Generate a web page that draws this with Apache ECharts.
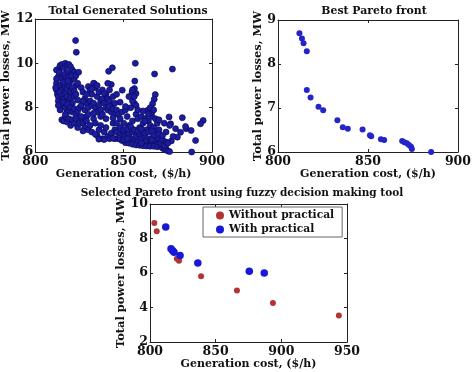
<!DOCTYPE html>
<html>
<head>
<meta charset="utf-8">
<script src="https://cdn.jsdelivr.net/npm/echarts@6/dist/echarts.min.js"></script>
<style>html,body{margin:0;padding:0;background:#fff;}#c{width:474px;height:372px;}</style>
</head>
<body>
<div id="c"></div>
<script>
// ---- Data ----
const titles = ["Total Generated Solutions", "Best Pareto front", "Selected Pareto front using fuzzy decision making tool"];
const xName = "Generation cost, ($/h)";
const yName = "Total power losses, MW";
const legendNames = ["Without practical", "With practical"];

// All generated solutions [cost, losses]
const allSolutions = [
 [822.8,11.03],[823.2,10.5],[813.1,9.73],[856.6,10.0],[877.6,9.74],[867.5,9.52],[843.6,9.8],[841.5,9.64],[856.3,9.2],[849.2,8.79],
 [833.3,9.09],[867.9,8.59],[867.3,8.38],[866.4,8.18],[863.6,7.88],[856.1,8.86],[857,8.64],[854.8,8.71],[883.2,7.55],[895,7.42],
 [893.5,7.27],[888.2,6.97],[890.7,6.52],[888.5,6.0],[875.7,7.58],[876.6,7.27],[882.2,6.89],[885.4,7.05],[885,7.15],[879.4,7.05],[880.4,6.67],
 [812,9.7],[813,9.4],[814,9.9],[815,9.95],[816,9.8],[817,10.0],[818,9.9],[819,9.95],[820,9.85],[821,9.7],[822,9.6],[818,9.6],[816,9.5],
 [815,9.3],[817,9.3],[819,9.4],[820,9.2],[822,9.3],[823,9.0],[824,9.1],[812,9.1],[813,8.9],[814,9.0],[815,8.8],[816,9.1],[817,8.95],
 [818,8.85],[819,9.0],[820,8.7],[821,8.9],[822,8.75],[812,8.8],[812.5,8.6],[813,8.5],[814,8.7],[815,8.55],[816,8.4],[817,8.6],[818,8.5],
 [819,8.3],[820,8.45],[821,8.2],[822,8.5],[823,8.6],[824,8.35],[813,8.3],[814,8.2],[815,8.1],[816,8.25],[817,8.0],[818,8.15],[819,7.9],
 [820,8.0],[821,7.8],[822,7.95],[823,7.7],[824,7.85],[825,8.0],[815,7.45],[816,7.4],[817,7.6],[818,7.35],[819,7.5],[820,7.2],[821,7.45],
 [822,7.3],[823,7.5],[824,7.1],[825,7.3],[826,7.5],[818,7.8],[817,7.7],[814,7.9],[813,8.1],[811.5,8.9],[812,9.3],[813.5,9.6],[816,9.15],
 [818.5,9.2],[820.5,9.45],[823,9.45],[824.5,9.6],
 [826,8.9],[827,8.7],[828,8.4],[829,8.2],[830,8.95],[831,8.8],[832,8.6],[833,9.1],[834,8.9],[835,8.5],[836,8.7],[837,8.3],[826,8.1],
 [827,8.3],[828,7.9],[829,7.6],[830,8.0],[831,8.3],[832,8.1],[833,8.2],[834,8.0],[835,7.8],[836,8.1],[837,7.9],[838,8.4],[839,8.2],
 [840,8.6],[841,8.4],[842,8.3],[843,8.1],[844,8.5],[845,8.2],[840,8.0],[841,7.9],[842,8.05],[843,7.8],[844,7.95],[838,8.8],[839,8.65],
 [842,8.8],[843,9.05],[841,9.1],[826,7.6],[827,7.3],[828,7.1],[829,7.4],[830,7.0],[831,7.2],[832,6.9],[833,7.5],[834,7.3],[835,6.75],
 [836,7.0],[837,7.2],[838,6.6],[839,6.9],[840,7.1],[841,6.7],[842,6.6],[843,6.85],[844,7.3],[845,7.0],[836,6.58],[839,6.56],[834,6.8],
 [830,7.7],[833,7.75],[827,6.95],[837,7.6],[840,7.5],[845,7.7],[844,7.55],[829,8.6],[835,9.0],[832,8.85],[838,7.7],[846,7.3],
 [846,7.9],[847,7.7],[848,7.5],[849,7.8],[850,7.3],[851,7.9],[852,7.6],[853,7.2],[854,8.0],[855,7.4],[856,8.2],[857,7.7],[858,7.5],
 [859,7.1],[860,7.6],[861,7.3],[862,7.5],[863,7.0],[864,7.4],[865,7.2],[866,7.6],[867,7.1],[868,6.9],[869,7.3],[870,7.0],[846,6.9],
 [847,6.6],[848,6.8],[849,6.55],[850,6.9],[851,6.7],[852,6.45],[853,6.8],[854,6.6],[855,6.9],[856,6.5],[857,6.7],[858,6.45],[859,6.8],
 [860,6.6],[861,6.35],[862,6.7],[863,6.5],[864,6.32],[865,6.6],[866,6.4],[867,6.75],[868,6.5],[869,6.35],[870,6.6],[848,7.1],[850,7.0],
 [852,7.05],[854,7.15],[856,7.0],[858,6.95],[860,7.05],[862,6.85],[864,6.9],[866,6.95],[849,6.52],[851,6.42],[853,6.4],[855,6.35],
 [857,6.32],[859,6.3],[861,6.28],[863,6.27],[865,6.26],[867,6.26],[869,6.24],[871,6.25],[872,6.18],[873,6.12],[874,6.15],[875,6.05],
 [876,6.02],[871,6.4],[872,6.55],[873,6.3],[874,6.45],[870,6.8],[868,7.5],[866,7.8],[864,7.7],[861,7.85],[857,8.1],[855,8.3],[853,8.5],
 [851,8.05],[848,8.25],[846,8.6],[855,8.8],[856,8.5],[858,7.9],[865,8.0],[867,7.9],[862,7.4],[850,6.55],[847,6.62],[845,6.6],[844,6.62],
 [852,6.6],[860,6.4],[866,6.55],[876,7.2],[874,6.9],[873,7.3],[870,7.45],[872,6.75],[877,6.5],[878,6.7],[875,6.4]
];

// Best Pareto front
const paretoCost = [811.9,813.3,814.2,816.0,816.0,818.1,822.5,825.1,833.0,836.0,838.8,847.0,851.1,851.8,857.2,859.0,869.0,870.2,871.6,872.8,873.9,874.4,885.1];
const paretoLoss = [8.70,8.58,8.47,8.29,7.41,7.24,7.03,6.95,6.72,6.56,6.53,6.51,6.38,6.36,6.29,6.27,6.25,6.22,6.20,6.16,6.12,6.07,6.00];

// Selected Pareto fronts
const withoutCost = [803.3,805.1,820.4,822.1,838.9,866.2,893.6,943.8];
const withoutLoss = [8.90,8.42,6.83,6.71,5.81,4.98,4.26,3.53];
const withCost = [812.0,816.0,817.3,818.3,822.9,836.4,875.6,887.0];
const withLoss = [8.67,7.41,7.29,7.21,7.02,6.58,6.10,6.00];

// ---- Chart ----
const FONT = 'DejaVu Serif';
const grids = [
  {left: 33, top: 19, width: 179, height: 133},
  {left: 278, top: 20, width: 190, height: 132},
  {left: 150, top: 204, width: 197, height: 138}
];
const xr = [[800,900,50],[800,900,50],[800,950,50]];
const yr = [[6,12,2],[6,9,1],[2,10,2]];
const yGap = [19,13,21];

const xAxes = [], yAxes = [];
grids.forEach((g, i) => {
  const base = {gridIndex: i, type: 'value', splitLine: {show: false},
    axisLine: {show: true, onZero: false, lineStyle: {color: '#222', width: 1}},
    axisTick: {show: true, inside: true, length: 3, lineStyle: {color: '#222'}}};
  xAxes.push(Object.assign({}, base, {position: 'bottom', min: xr[i][0], max: xr[i][1], interval: xr[i][2],
    axisLabel: {show: true, color: '#111', fontFamily: FONT, fontWeight: 'bold', fontSize: 12.5, margin: 3, showMinLabel: true, showMaxLabel: true},
    name: xName, nameLocation: 'middle', nameGap: 16,
    nameTextStyle: {color: '#111', fontFamily: FONT, fontWeight: 'bold', fontSize: 11}}));
  xAxes.push(Object.assign({}, base, {position: 'top', min: xr[i][0], max: xr[i][1], interval: xr[i][2], axisLabel: {show: false}}));
  yAxes.push(Object.assign({}, base, {position: 'left', min: yr[i][0], max: yr[i][1], interval: yr[i][2],
    axisLabel: {show: true, color: '#111', fontFamily: FONT, fontWeight: 'bold', fontSize: 12.5, margin: 2, showMinLabel: true, showMaxLabel: true},
    name: yName, nameLocation: 'middle', nameGap: yGap[i], nameRotate: 90,
    nameTextStyle: {color: '#111', fontFamily: FONT, fontWeight: 'bold', fontSize: 11.4}}));
  yAxes.push(Object.assign({}, base, {position: 'right', min: yr[i][0], max: yr[i][1], interval: yr[i][2], axisLabel: {show: false}}));
});

const zip = (a, b) => a.map((v, k) => [v, b[k]]);

const option = {
  animation: false,
  backgroundColor: '#fff',
  title: [
    {text: titles[0], left: 123, top: 1, textAlign: 'center', textStyle: {fontFamily: FONT, fontWeight: 'bold', fontSize: 10.9, color: '#111'}},
    {text: titles[1], left: 369, top: 1, textAlign: 'center', textStyle: {fontFamily: FONT, fontWeight: 'bold', fontSize: 10.9, color: '#111'}},
    {text: titles[2], left: 237, top: 183, textAlign: 'center', textStyle: {fontFamily: FONT, fontWeight: 'bold', fontSize: 10.5, color: '#111'}}
  ],
  legend: {
    left: 203, top: 207, orient: 'vertical', data: legendNames,
    backgroundColor: '#fff', borderColor: '#666', borderWidth: 1, borderRadius: 0,
    padding: [3, 8, 2, 13], itemGap: 3, itemWidth: 8, itemHeight: 8,
    textStyle: {fontFamily: FONT, fontWeight: 'bold', fontSize: 10.7, color: '#111'}
  },
  grid: grids,
  xAxis: xAxes,
  yAxis: yAxes,
  series: [
    {type: 'scatter', xAxisIndex: 0, yAxisIndex: 0, data: allSolutions, symbolSize: 6,
     itemStyle: {color: '#1c1ca0', borderColor: '#0b0b55', borderWidth: 0.7, opacity: 1}},
    {type: 'scatter', xAxisIndex: 2, yAxisIndex: 2, data: zip(paretoCost, paretoLoss), symbolSize: 6,
     itemStyle: {color: '#2424c8', opacity: 1}},
    {name: legendNames[0], type: 'scatter', xAxisIndex: 4, yAxisIndex: 4, data: zip(withoutCost, withoutLoss), symbolSize: 6,
     itemStyle: {color: '#b23434', opacity: 1}},
    {name: legendNames[1], type: 'scatter', xAxisIndex: 4, yAxisIndex: 4, data: zip(withCost, withLoss), symbolSize: 7.5,
     itemStyle: {color: '#1818d8', opacity: 1}}
  ]
};
echarts.init(document.getElementById('c'), null, {renderer: 'canvas'}).setOption(option);
</script>
</body>
</html>
